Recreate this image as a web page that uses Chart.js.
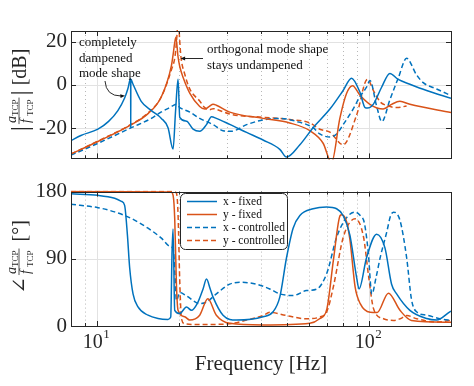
<!DOCTYPE html>
<html>
<head>
<meta charset="utf-8">
<script src="https://cdn.jsdelivr.net/npm/chart.js@4.4.0/dist/chart.umd.min.js"></script>
<style>
  html, body { margin: 0; padding: 0; background: #fff; }
  #wrap { position: relative; width: 474px; height: 386px; }
  canvas { position: absolute; left: 0; }
</style>
</head>
<body>
<div id="wrap">
  <canvas id="magChart" width="474" height="175" style="top:0"></canvas>
  <canvas id="phaseChart" width="474" height="211" style="top:175px"></canvas>
</div>
<script>
// --- magnitude [dB] ---
const xFixedMagF = [8, 8.7, 10.05, 11.0, 11.9, 12.6, 12.95, 13.26, 13.27, 13.28, 13.53, 14.5, 15.8, 17.2, 18.2, 18.99, 19.4, 19.81, 20.1, 21.3, 22.5, 23.8, 25.2, 26.3, 27.4, 30.7, 35.4, 40.7, 46.9, 49.65, 55.6, 62.2, 71.7, 80.2, 86.1, 92.4, 96.6, 98.5, 103.5, 111.1, 119.2, 127.9, 141.2, 162.7, 200];
const xFixedMag  = [-25.8, -23.4, -20.5, -16.9, -11.9, -6.1, -1.8, 2.9, -20, 2.6, 0.3, -7.6, -11.9, -15.5, -19.8, -29.7, -12, 2.6, -15, -16.8, -20.5, -21.5, -18.4, -14.8, -15.5, -18.3, -22, -25.5, -29.8, -33.4, -27.7, -19.8, -11.2, -2.6, 3.1, -3.3, -10.5, -10.7, -9, -1.1, 5.3, 2.5, 0.3, -2.6, -6.2];

const yFixedMagF = [8, 10.05, 13.34, 15.36, 17.2, 18.73, 19.0, 19.26, 19.45, 19.81, 20.1, 20.7, 21.9, 23.8, 24.84, 25.9, 26.65, 27.4, 30.7, 40.7, 51, 60.5, 67.7, 72.7, 78, 82.55, 86.9, 92.4, 100.6, 112.6, 120.9, 129.7, 141.2, 200];
const yFixedMag  = [-32, -26.2, -18.4, -13.3, -5.5, 8.9, 14, 19.5, 22, 13, 8.5, 3.3, -3.9, -10, -11.2, -9.8, -9.0, -9.4, -12.6, -15.5, -17.6, -21.2, -27, -36, -15.5, -4, -0.4, -4.7, -9, -11.2, -9, -7.6, -9, -12.8];

const xCtrlMagF = [8, 10.05, 13.34, 15.8, 17.2, 18.46, 19.0, 19.5, 20.1, 21.9, 23.8, 26.65, 29, 31, 35.4, 40.7, 46.9, 54, 62.2, 65.8, 71.7, 75.9, 80.2, 87.3, 92.4, 97.8, 100.7, 106.5, 111.3, 119.2, 127.9, 137.3, 149.4, 158.1, 177.1, 200];
const xCtrlMag  = [-32.5, -27, -19.8, -15.5, -12.5, -10.5, -9.6, -9, -10.5, -12.6, -15.5, -18.4, -21.2, -21.5, -18.4, -16.2, -15.5, -16.9, -19.8, -22.7, -24.1, -22.7, -18.4, -11.2, -5.5, -1.1, 2, -9.8, -17, -6.9, 3.1, 12.3, 4.6, 1, -1.9, -5];

const yCtrlMagF = [8, 10.05, 13.34, 15.36, 17.2, 18.73, 19.3, 19.55, 19.85, 20.1, 20.3, 20.96, 21.9, 23.8, 24.84, 25.9, 26.65, 27.4, 30.7, 40.7, 51, 60.5, 65.8, 71.7, 80.2, 89.9, 98.5, 104, 110, 115.9, 126.2, 137.3];
const yCtrlMag  = [-32, -26, -18.2, -13, -5.5, 7, 13, 20, 30, 20, 13, 5, -2, -7.5, -10.5, -11.5, -11, -11.3, -13.5, -15, -16, -17.6, -20.5, -21.9, -27.7, -14, 2.5, -3, -8, -9.5, -10.5, -9.8];

// --- phase [deg] ---
const xFixedPhF = [8, 10.05, 11.58, 12.26, 12.6, 12.9, 13.15, 13.53, 14.11, 15.36, 16.72, 18.19, 18.62, 18.83, 18.99, 19.26, 20.1, 21.27, 22.19, 23.3, 24.5, 25.2, 26.0, 26.65, 29.0, 32.5, 40.7, 44.3, 46.9, 49.65, 52.5, 55.6, 62.2, 69.7, 75.9, 80.2, 84.9, 89.9, 91.8, 97.8, 106.5, 114.3, 120.9, 126.2, 141.2, 162.7, 177.1, 198, 200];
const xFixedPh  = [177, 175, 171, 167, 161.6, 122, 78, 43, 25.5, 14.5, 10, 8.8, 12, 100, 130, 21, 16.7, 25.5, 21, 30, 50, 62.8, 50, 38.7, 14.5, 7.9, 12.4, 19, 38.7, 91.4, 131, 148, 157, 159.4, 157, 148, 122, 65, 49.6, 91.4, 123, 104.6, 56, 43, 21, 10, 8, 19, 20];

const yFixedPhF = [8, 18.0, 18.73, 19.0, 19.26, 19.54, 19.81, 20.96, 21.87, 23.8, 25.5, 27.4, 30.7, 40.7, 60.5, 65.7, 69.9, 73.9, 78.2, 79.2, 82.55, 85, 88.8, 92.7, 100.8, 107, 117.7, 130, 143, 200];
const yFixedPh  = [180, 179.5, 179, 175, 144, 56, 21, 12.4, 8, 14.5, 36.5, 14.5, 3.6, 1.3, 3.6, 9.7, 23, 88.8, 148, 149, 140, 115, 52, 30, 18.4, 18, 44, 20.7, 7.5, 5];

const xCtrlPhF = [8, 10.05, 11.58, 13.34, 15.36, 17.2, 18.46, 19.0, 19.3, 19.54, 20.1, 21.27, 23.8, 25.2, 27.4, 30.7, 33.4, 38.5, 43.1, 46.9, 52.5, 58.8, 64.1, 69.9, 76, 82.9, 88.8, 92.7, 96, 99.15, 102.3, 106, 110, 115.9, 120, 123, 129.7, 137.3, 143.2, 149.4, 162.7, 187.3, 200];
const xCtrlPh  = [163, 158.5, 152.8, 144, 131, 117.7, 106.7, 103, 70, 34, 45, 40.4, 30, 32, 43, 56, 58.5, 56, 49.6, 43, 40.8, 47.4, 49.3, 71, 119.5, 145.8, 152.4, 148, 138, 100, 42.7, 65, 93, 125, 148, 152.5, 142, 92, 35, 19, 14.5, 8.8, 8];

const yCtrlPhF = [8, 19.0, 19.54, 19.81, 20.1, 20.39, 20.96, 23.8, 30.7, 35.4, 40.7, 43.1, 49.65, 58.8, 65.8, 70, 73.94, 80.4, 88.8, 95.3, 99.5, 103.8, 112.9, 122.9, 130, 137.6, 149.6, 177.4, 200];
const yCtrlPh  = [180, 180, 178, 150, 60, 10, 3, 2, 3, 8, 14, 18.4, 14, 9.7, 12, 20, 53.6, 119.5, 143.5, 119.5, 66.8, 23, 9.7, 7.5, 9.7, 14, 9.7, 5.3, 7.5];

// axes
const xGridMajor = [10, 100];
const xGridMinor = [9, 20, 30, 40, 50, 60, 70, 80, 90];
const magTicks = [-20, 0, 20];
const phaseTicks = [0, 90, 180];
const seriesLabels = ['x - fixed', 'y - fixed', 'x - controlled', 'y - controlled'];

const BLUE = '#0072BD', ORANGE = '#D95319';
const SERIF = '"Liberation Serif", "Times New Roman", serif';
const AXIS = '#262626';

function pts(f, v) { return f.map((x, i) => ({x: x, y: v[i]})); }

function ds(label, f, v, color, dash) {
  return {
    label: label, data: pts(f, v), borderColor: color, backgroundColor: color,
    borderWidth: 1.5, borderDash: dash, pointRadius: 0, fill: false,
    cubicInterpolationMode: 'monotone', clip: {left: 0, right: 0, top: 1, bottom: 1}
  };
}

function seg(ctx, x1, y1, x2, y2) {
  ctx.beginPath(); ctx.moveTo(x1, y1); ctx.lineTo(x2, y2); ctx.stroke();
}

function arrowHead(ctx, x, y, ang, size) {
  ctx.beginPath();
  ctx.moveTo(x, y);
  ctx.lineTo(x - size * Math.cos(ang - 0.4), y - size * Math.sin(ang - 0.4));
  ctx.lineTo(x - size * Math.cos(ang + 0.4), y - size * Math.sin(ang + 0.4));
  ctx.closePath();
  ctx.fill();
}

// grid, box and inward ticks (matlab style)
const framePlugin = {
  id: 'frame',
  beforeDatasetsDraw(chart) {
    const ctx = chart.ctx, a = chart.chartArea, xs = chart.scales.x, ys = chart.scales.y;
    ctx.save();
    ctx.lineWidth = 1;
    ctx.strokeStyle = '#e2e2e2';
    ys.ticks.forEach(t => {
      if (t.value <= ys.min || t.value >= ys.max) return;
      const y = Math.round(ys.getPixelForValue(t.value)) + 0.5;
      seg(ctx, a.left, y, a.right, y);
    });
    xGridMajor.forEach(v => {
      const x = Math.round(xs.getPixelForValue(v)) + 0.5;
      seg(ctx, x, a.top, x, a.bottom);
    });
    ctx.strokeStyle = '#b8b8b8';
    ctx.setLineDash([1, 3]);
    xGridMinor.forEach(v => {
      const x = Math.round(xs.getPixelForValue(v)) + 0.5;
      seg(ctx, x, a.top, x, a.bottom);
    });
    ctx.restore();
  },
  afterDatasetsDraw(chart) {
    const ctx = chart.ctx, a = chart.chartArea, xs = chart.scales.x, ys = chart.scales.y;
    ctx.save();
    ctx.strokeStyle = AXIS;
    ctx.lineWidth = 1;
    ctx.strokeRect(Math.round(a.left) + 0.5, Math.round(a.top) + 0.5, Math.round(a.right - a.left), Math.round(a.bottom - a.top));
    const tick = (v, len) => {
      const x = Math.round(xs.getPixelForValue(v)) + 0.5;
      seg(ctx, x, a.bottom, x, a.bottom - len);
      seg(ctx, x, a.top, x, a.top + len);
    };
    xGridMajor.forEach(v => tick(v, 5));
    xGridMinor.forEach(v => tick(v, 3));
    ys.ticks.forEach(t => {
      const y = Math.round(ys.getPixelForValue(t.value)) + 0.5;
      seg(ctx, a.left, y, a.left + 5, y);
      seg(ctx, a.right, y, a.right - 5, y);
    });
    ctx.restore();
  }
};

// rotated y label with a_TCP / f_TCP fraction
function fracLabel(ctx, cx, cy, prefix, preFont, preBase, suffix) {
  const big = '20px ' + SERIF, it = 'italic 14px ' + SERIF, sub = '9px ' + SERIF;
  ctx.font = preFont; const wPre = ctx.measureText(prefix).width;
  ctx.font = it; const wa = ctx.measureText('a').width, wf = ctx.measureText('f').width;
  ctx.font = sub; const wt = ctx.measureText('TCP').width;
  const wFrac = Math.max(wa, wf) + wt + 3;
  ctx.font = big; const wSuf = ctx.measureText(suffix).width;
  let wBar = 0;
  if (prefix === '|') { ctx.font = preFont; wBar = ctx.measureText('|').width; }
  const W = wPre + 2 + wFrac + 2 + wBar + wSuf;
  ctx.save();
  ctx.translate(cx, cy);
  ctx.rotate(-Math.PI / 2);
  ctx.fillStyle = AXIS;
  ctx.textBaseline = 'alphabetic';
  ctx.textAlign = 'left';
  let x = -W / 2;
  ctx.font = preFont; ctx.fillText(prefix, x, preBase);
  x += wPre + 2;
  const fx = x;
  ctx.font = it; ctx.fillText('a', fx + 1, -3);
  ctx.font = sub; ctx.fillText('TCP', fx + 1 + wa, -1);
  ctx.font = it; ctx.fillText('f', fx + 1, 11);
  ctx.font = sub; ctx.fillText('TCP', fx + 1 + wa, 14);
  ctx.strokeStyle = AXIS; ctx.lineWidth = 0.8;
  seg(ctx, fx, 0, fx + wFrac, 0);
  x += wFrac + 2;
  if (wBar) { ctx.font = preFont; ctx.fillText('|', x, preBase); x += wBar; }
  ctx.font = big; ctx.fillText(suffix, x, 7);
  ctx.restore();
}

const magLabels = {
  id: 'magLabels',
  afterDraw(chart) {
    const ctx = chart.ctx;
    fracLabel(ctx, 19, 90, '|', '26px ' + SERIF, 9, ' [dB]');
    ctx.save();
    ctx.fillStyle = '#111';
    ctx.font = '13px ' + SERIF;
    ctx.textAlign = 'left';
    ctx.textBaseline = 'alphabetic';
    ctx.fillText('completely', 79, 46);
    ctx.fillText('dampened', 79, 62);
    ctx.fillText('mode shape', 79, 77);
    ctx.fillText('orthogonal mode shape', 207, 53);
    ctx.fillText('stays undampened', 207, 69);
    ctx.strokeStyle = '#111'; ctx.lineWidth = 0.9;
    ctx.beginPath(); ctx.moveTo(105, 81); ctx.quadraticCurveTo(106, 96, 121, 96); ctx.stroke();
    arrowHead(ctx, 125, 95.7, -0.08, 5);
    seg(ctx, 203, 58.5, 184, 58.5);
    arrowHead(ctx, 180.5, 58.5, Math.PI, 5);
    ctx.restore();
  }
};

const phaseLabels = {
  id: 'phaseLabels',
  afterDraw(chart) {
    const ctx = chart.ctx, a = chart.chartArea, xs = chart.scales.x;
    fracLabel(ctx, 19, 82, '\u2220', '20px "DejaVu Serif", ' + SERIF, 7, ' [\u00B0]');
    ctx.save();
    ctx.fillStyle = AXIS;
    ctx.textBaseline = 'alphabetic';
    ctx.textAlign = 'left';
    [[10, '1'], [100, '2']].forEach(([v, e]) => {
      const px = xs.getPixelForValue(v);
      ctx.font = '20px ' + SERIF; ctx.fillText('10', px - 14.5, 173);
      ctx.font = '13px ' + SERIF; ctx.fillText(e, px + 6, 163);
    });
    ctx.font = '21px ' + SERIF;
    ctx.textAlign = 'center';
    ctx.fillText('Frequency [Hz]', (a.left + a.right) / 2, 195);

    // legend box
    const bx = 180.5, by = 18.5, bw = 107, bh = 56, r = 5;
    ctx.beginPath();
    ctx.moveTo(bx + r, by);
    ctx.arcTo(bx + bw, by, bx + bw, by + bh, r);
    ctx.arcTo(bx + bw, by + bh, bx, by + bh, r);
    ctx.arcTo(bx, by + bh, bx, by, r);
    ctx.arcTo(bx, by, bx + bw, by, r);
    ctx.closePath();
    ctx.fillStyle = '#fff'; ctx.fill();
    ctx.strokeStyle = AXIS; ctx.lineWidth = 1; ctx.stroke();
    const rows = [26.5, 39.5, 52.5, 65.5];
    chart.data.datasets.forEach((d, i) => {
      ctx.strokeStyle = d.borderColor; ctx.lineWidth = 1.5;
      ctx.setLineDash(d.borderDash || []);
      seg(ctx, 187, rows[i], 217, rows[i]);
      ctx.setLineDash([]);
      ctx.fillStyle = '#111';
      ctx.font = '11.5px ' + SERIF; ctx.textAlign = 'left'; ctx.textBaseline = 'middle';
      ctx.fillText(d.label, 223, rows[i]);
    });
    ctx.restore();
  }
};

function yScale(min, max, ticks) {
  return {
    min: min, max: max,
    afterBuildTicks: s => { s.ticks = ticks.map(v => ({value: v})); },
    afterFit: s => { s.width = 71; },
    grid: {display: false, drawTicks: false},
    border: {display: false},
    ticks: {font: {family: SERIF, size: 21}, color: AXIS, padding: 4}
  };
}

new Chart(document.getElementById('magChart'), {
  type: 'line',
  data: {datasets: [
    ds(seriesLabels[0], xFixedMagF, xFixedMag, BLUE, []),
    ds(seriesLabels[1], yFixedMagF, yFixedMag, ORANGE, []),
    ds(seriesLabels[2], xCtrlMagF, xCtrlMag, BLUE, [5, 3]),
    ds(seriesLabels[3], yCtrlMagF, yCtrlMag, ORANGE, [5, 3])
  ]},
  options: {
    responsive: false, animation: false, devicePixelRatio: 1,
    layout: {padding: {left: 0, right: 23, top: 31, bottom: 7}},
    plugins: {legend: {display: false}, tooltip: {enabled: false}},
    scales: {
      x: {type: 'logarithmic', min: 8, max: 200, display: false},
      y: yScale(-34, 24.9, magTicks)
    }
  },
  plugins: [framePlugin, magLabels]
});

new Chart(document.getElementById('phaseChart'), {
  type: 'line',
  data: {datasets: [
    ds(seriesLabels[0], xFixedPhF, xFixedPh, BLUE, []),
    ds(seriesLabels[1], yFixedPhF, yFixedPh, ORANGE, []),
    ds(seriesLabels[2], xCtrlPhF, xCtrlPh, BLUE, [5, 3]),
    ds(seriesLabels[3], yCtrlPhF, yCtrlPh, ORANGE, [5, 3])
  ]},
  options: {
    responsive: false, animation: false, devicePixelRatio: 1,
    layout: {padding: {left: 0, right: 23, top: 14, bottom: 60}},
    plugins: {legend: {display: false}, tooltip: {enabled: false}},
    scales: {
      x: {type: 'logarithmic', min: 8, max: 200, display: false},
      y: yScale(0, 180, phaseTicks)
    }
  },
  plugins: [framePlugin, phaseLabels]
});
</script>
</body>
</html>
